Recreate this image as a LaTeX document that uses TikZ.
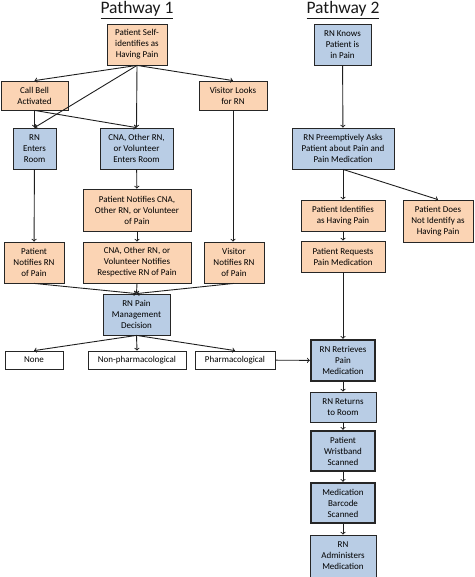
\documentclass[tikz,border=0pt]{standalone}
\usepackage{fontspec}
\setmainfont{Carlito}
\usepackage{tikz}
\usetikzlibrary{calc}

\definecolor{painorange}{HTML}{FBD4B4}
\definecolor{painblue}{HTML}{B9CDE5}
\definecolor{lineclr}{HTML}{1E1E1E}

\tikzset{
	box/.style = {draw = black!85, line width = 0.8pt, align = center, inner sep = 1pt, text = black, font = \fontsize{9}{11}\selectfont},
	orangebox/.style = {box, fill = painorange},
	bluebox/.style = {box, fill = painblue},
	whitebox/.style = {box, fill = white},
	heavybox/.style = {bluebox, line width = 2.4pt},
	flow/.style = {->, draw = lineclr, line width = 0.9pt},
	title/.style = {font = \fontsize{17.5}{20}\selectfont, text = black!90, inner sep = 1pt}
}

\begin{document}
\begin{tikzpicture}[x = 1pt, y = -1pt]
			\useasboundingbox (0, 0) rectangle (474, 577);
			% titles
			\node[title, anchor = north] (title1) at (137, 0.5) {\underline{Pathway 1}};
			\node[title, anchor = north] (title2) at (343, 0.5) {\underline{Pathway 2}};
			% pathway 1 boxes
			\node[orangebox, minimum width = 60, minimum height = 41] (selfid) at (137, 44.5) {Patient Self-\\identifies as\\Having Pain};
			\node[orangebox, minimum width = 67, minimum height = 29] (callbell) at (34.5, 95.5) {Call Bell\\Activated};
			\node[orangebox, minimum width = 68, minimum height = 29] (visitorlooks) at (233, 95.5) {Visitor Looks\\for RN};
			\node[bluebox, minimum width = 43, minimum height = 41] (rnenters) at (34.5, 148.5) {RN\\Enters\\Room};
			\node[bluebox, minimum width = 73, minimum height = 41] (cnaenters) at (136.5, 148.5) {CNA, Other RN,\\or Volunteer\\Enters Room};
			\node[orangebox, minimum width = 108, minimum height = 42] (notifycna) at (137, 210) {Patient Notifies CNA,\\Other RN, or Volunteer\\of Pain};
			\node[orangebox, minimum width = 60, minimum height = 41] (notifyrn) at (34, 262.5) {Patient\\Notifies RN\\of Pain};
			\node[orangebox, minimum width = 108, minimum height = 41] (cnanotifies) at (137, 262.5) {CNA, Other RN, or\\Volunteer Notifies\\Respective RN of Pain};
			\node[orangebox, minimum width = 60, minimum height = 41] (visitornotifies) at (234, 262.5) {Visitor\\Notifies RN\\of Pain};
			\node[bluebox, minimum width = 67, minimum height = 41] (decision) at (136.5, 314.5) {RN Pain\\Management\\Decision};
			\node[whitebox, minimum width = 58, minimum height = 18] (none) at (34, 360) {None};
			\node[whitebox, minimum width = 98, minimum height = 18] (nonpharm) at (137, 360) {Non-pharmacological};
			\node[whitebox, minimum width = 80, minimum height = 18] (pharm) at (235, 360) {Pharmacological};
			% pathway 2 boxes
			\node[bluebox, minimum width = 57, minimum height = 41] (knows) at (342.5, 44.5) {RN Knows\\Patient is\\in Pain};
			\node[bluebox, minimum width = 102, minimum height = 41] (preempt) at (343, 148.5) {RN Preemptively Asks\\Patient about Pain and\\Pain Medication};
			\node[orangebox, minimum width = 84, minimum height = 31] (identifies) at (343, 215.5) {Patient Identifies\\as Having Pain};
			\node[orangebox, minimum width = 70, minimum height = 42] (notidentify) at (438, 221) {Patient Does\\Not Identify as\\Having Pain};
			\node[orangebox, minimum width = 84, minimum height = 31] (requests) at (343, 256.5) {Patient Requests\\Pain Medication};
			\node[heavybox, minimum width = 64, minimum height = 41] (retrieves) at (343, 360.5) {RN Retrieves\\Pain\\Medication};
			\node[bluebox, minimum width = 66, minimum height = 30] (returns) at (343, 407) {RN Returns\\to Room};
			\node[heavybox, minimum width = 64, minimum height = 40] (wristband) at (343, 451) {Patient\\Wristband\\Scanned};
			\node[heavybox, minimum width = 64, minimum height = 40] (barcode) at (343, 503) {Medication\\Barcode\\Scanned};
			\node[bluebox, minimum width = 66, minimum height = 42] (administers) at (343, 556) {RN\\Administers\\Medication};
			% pathway 1 arrows
			\draw[flow] (selfid.south) -- (callbell.north);
			\draw[flow] (selfid.south) -- (rnenters.north);
			\draw[flow] (selfid.south) -- (cnaenters.north);
			\draw[flow] (selfid.south) -- (visitorlooks.north);
			\draw[flow] (callbell.south) -- (rnenters.north);
			\draw[flow] (callbell.south) -- (cnaenters.north);
			\draw[flow] (rnenters) -- (notifyrn);
			\draw[flow] (cnaenters) -- (notifycna);
			\draw[flow] (notifycna) -- (cnanotifies);
			\draw[flow] (visitorlooks.south) -- (visitornotifies.north -| visitorlooks.south);
			\draw[flow] (notifyrn.south) -- (decision.north);
			\draw[flow] (cnanotifies.south) -- (decision.north);
			\draw[flow] (visitornotifies.south) -- (decision.north);
			\draw[flow] (decision.south) -- (none.north);
			\draw[flow] (decision.south) -- (nonpharm.north);
			\draw[flow] (decision.south) -- (pharm.north);
			\draw[flow] (pharm) -- (retrieves);
			% pathway 2 arrows
			\draw[flow] (knows) -- (preempt);
			\draw[flow] (preempt) -- (identifies);
			\draw[flow] (preempt.south) -- (notidentify.north);
			\draw[flow] (identifies) -- (requests);
			\draw[flow] (requests) -- (retrieves);
			\draw[flow] (retrieves) -- (returns);
			\draw[flow] (returns) -- (wristband);
			\draw[flow] (wristband) -- (barcode);
			\draw[flow] (barcode) -- (administers);
		\end{tikzpicture}
\end{document}
